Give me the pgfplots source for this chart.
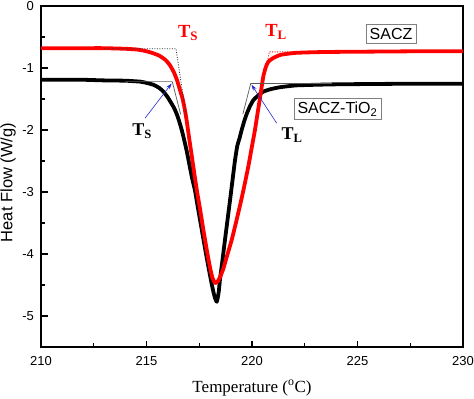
\documentclass[border=0pt]{standalone}
\usepackage{fontspec}
\setmainfont{Liberation Serif}
\newfontfamily\arial{Liberation Sans}
\usepackage{pgfplots}
\pgfplotsset{compat=1.18}
\usetikzlibrary{arrows.meta}
\definecolor{arrowblue}{RGB}{40,40,210}
\definecolor{tangentgray}{RGB}{90,90,90}
\begin{document}
\begin{tikzpicture}
\begin{axis}[
  scale only axis, width=422pt, height=341pt,
  xmin=210, xmax=230, ymin=-5.5, ymax=0,
  xtick={210,215,...,230}, ytick={-5,-4,...,0},
  minor x tick num=1, minor y tick num=1,
  tick align=inside, xtick pos=bottom, ytick pos=left,
  major tick length=6.5pt, minor tick length=4pt,
  axis line style={line width=1.5pt},
  every tick/.style={line width=1.2pt, black},
  /pgf/number format/assume math mode=true,
  tick label style={font=\arial\fontsize{13}{15}\selectfont},
  xticklabel style={yshift=-5.5pt},
  yticklabel style={xshift=-3.5pt},
  xlabel={Temperature (\textsuperscript{o}C)},
  ylabel={Heat Flow (W/g)},
  every axis x label/.style={at={(axis description cs:0.5,-0.1202)}, anchor=center, font=\fontsize{17}{19}\selectfont},
  every axis y label/.style={at={(axis description cs:-0.078,0.4824)}, anchor=center, rotate=90, font=\arial\fontsize{16.5}{19}\selectfont},
]
% SACZ-TiO2 (black)
\addplot[black, line width=3.8pt, line join=round, smooth, tension=0.3] coordinates {
(210,-1.19) (211,-1.19) (212,-1.19) (213,-1.20) (214,-1.205) (214.7,-1.22)
(215.0,-1.24) (215.32,-1.27) (215.6,-1.32) (215.8,-1.38) (216.0,-1.47)
(216.11,-1.53) (216.3,-1.64) (216.43,-1.74) (216.55,-1.86) (216.67,-2.00)
(216.8,-2.18) (216.9,-2.33) (217.0,-2.50) (217.15,-2.76) (217.3,-2.98)
(217.45,-3.28) (217.62,-3.61) (217.78,-3.92) (217.93,-4.20) (218.1,-4.50)
(218.22,-4.68) (218.33,-4.77) (218.42,-4.62) (218.48,-4.42) (218.6,-4.10)
(218.72,-3.77) (218.84,-3.45) (218.96,-3.13) (219.08,-2.80) (219.19,-2.50)
(219.3,-2.26) (219.42,-2.12) (219.51,-2.00) (219.63,-1.86) (219.75,-1.74)
(219.9,-1.62) (220.06,-1.52) (220.3,-1.44) (220.54,-1.38) (220.9,-1.34)
(221.33,-1.31) (222.12,-1.28) (223.7,-1.265) (225,-1.26) (227,-1.255) (230,-1.255)
};
% SACZ (red)
\addplot[red, line width=3.8pt, line join=round, smooth, tension=0.3] coordinates {
(210,-0.68) (211,-0.68) (212,-0.68) (213,-0.68) (213.5,-0.685) (214.0,-0.69)
(214.5,-0.70) (214.7,-0.71) (215.0,-0.73) (215.3,-0.76) (215.6,-0.80)
(215.9,-0.87) (216.1,-0.95) (216.3,-1.07) (216.45,-1.20) (216.6,-1.37)
(216.7,-1.48) (216.8,-1.64) (216.9,-1.84) (217.0,-2.08) (217.15,-2.43)
(217.3,-2.78) (217.4,-3.00) (217.55,-3.30) (217.7,-3.62) (217.85,-3.92)
(218.0,-4.20) (218.12,-4.38) (218.25,-4.47) (218.38,-4.44) (218.5,-4.36)
(218.64,-4.24) (218.8,-4.05) (219.04,-3.77) (219.25,-3.48) (219.43,-3.22)
(219.6,-2.96) (219.83,-2.58) (220.0,-2.26) (220.14,-2.00) (220.25,-1.76)
(220.38,-1.48) (220.46,-1.30) (220.54,-1.13) (220.65,-0.99) (220.77,-0.90)
(221.0,-0.84) (221.33,-0.79) (221.7,-0.77) (222.1,-0.755) (223,-0.745)
(224,-0.74) (226,-0.735) (228,-0.73) (230,-0.73)
};
% tangent constructions
\addplot[black!80, line width=0.8pt, dash pattern=on 1pt off 1.5pt] coordinates {
(213.0,-0.69) (216.4,-0.69) (216.87,-1.76)};
\addplot[red, line width=0.8pt, dash pattern=on 1pt off 1.5pt] coordinates {
(220.62,-1.09) (220.82,-0.74) (223.8,-0.74)};
\addplot[tangentgray, line width=0.7pt] coordinates {
(214.0,-1.22) (216.22,-1.22) (216.62,-1.75)};
\addplot[tangentgray, line width=0.7pt] coordinates {
(219.57,-1.74) (219.94,-1.25) (223.8,-1.25)};
% arrows
\draw[arrowblue, line width=0.6pt, -{Stealth[length=6pt,width=4pt]}] (axis cs:214.93,-1.81) -- (axis cs:216.19,-1.25);
\draw[arrowblue, line width=0.6pt, -{Stealth[length=6pt,width=4pt]}] (axis cs:221.17,-1.89) -- (axis cs:219.98,-1.27);
% labels
\node[red, font=\bfseries\fontsize{18.5}{20}\selectfont] at (axis cs:216.97,-0.44) {T\textsubscript{S}};
\node[red, font=\bfseries\fontsize{18.5}{20}\selectfont] at (axis cs:221.14,-0.42) {T\textsubscript{L}};
\node[black, font=\bfseries\fontsize{18}{20}\selectfont] at (axis cs:214.79,-2.02) {T\textsubscript{S}};
\node[black, font=\bfseries\fontsize{18}{20}\selectfont] at (axis cs:221.9,-2.08) {T\textsubscript{L}};
\node[draw=gray, line width=0.6pt, inner xsep=3.5pt, inner ysep=3.5pt, font=\arial\fontsize{16}{18}\selectfont] at (axis cs:226.59,-0.45) {SACZ};
\node[draw=gray, line width=0.6pt, inner xsep=3.5pt, inner ysep=3.5pt, font=\arial\fontsize{16}{18}\selectfont] at (axis cs:224.05,-1.66) {SACZ-TiO\textsubscript{2}};
\end{axis}
\pgfresetboundingbox
\path[use as bounding box] (-41pt,-52pt) rectangle (433pt,347pt);
\end{tikzpicture}
\end{document}
